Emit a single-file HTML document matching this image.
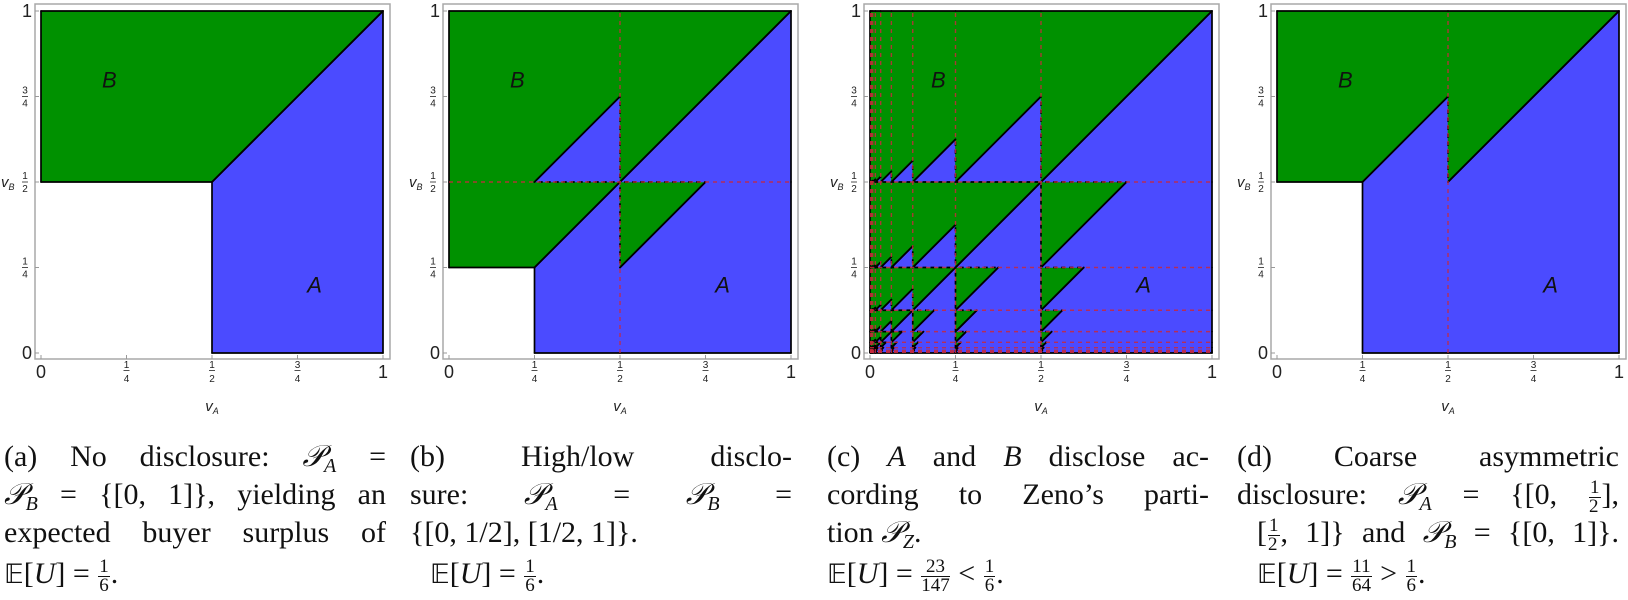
<!DOCTYPE html>
<html><head><meta charset="utf-8">
<style>
html,body{margin:0;padding:0;background:#fff;}
#root{position:relative;width:1628px;height:600px;overflow:hidden;}
svg text{font-family:"Liberation Sans",sans-serif;}
.cap{position:absolute;width:382px;font-family:"Liberation Serif","DejaVu Serif",serif;font-size:30px;color:#111;}
.ln{position:absolute;left:0;width:100%;height:38px;line-height:38px;white-space:nowrap;}
.j{text-align:justify;text-align-last:justify;white-space:normal;}
.ind{padding-left:20px;}
.m{font-style:italic;}
sub{font-size:20px;font-style:italic;vertical-align:-6px;line-height:0;}
.fr{display:inline-block;vertical-align:middle;text-align:center;font-size:19px;line-height:18px;margin:0 1px;}
.fr span{display:block;}
.fr .n{border-bottom:1.3px solid #111;padding:0 1px;}
.bb{font-family:"DejaVu Sans",sans-serif;font-size:27px;}
</style></head>
<body>
<div id="root">
<svg id="plots" width="1628" height="420" style="position:absolute;left:0;top:0"></svg>

<div class="cap" style="left:4px;top:0">
 <div class="ln j" style="top:438px">(a) No disclosure: <span class="m">𝒫<sub>A</sub></span> =</div>
 <div class="ln j" style="top:476px"><span class="m">𝒫<sub>B</sub></span> = {[0, 1]}, yielding an</div>
 <div class="ln j" style="top:514px">expected buyer surplus of</div>
 <div class="ln" style="top:555px"><span class="bb">𝔼</span>[<span class="m">U</span>] = <span class="fr"><span class="n">1</span><span>6</span></span>.</div>
</div>
<div class="cap" style="left:410px;top:0">
 <div class="ln j" style="top:438px">(b) High/low disclo-</div>
 <div class="ln j" style="top:476px">sure: <span class="m">𝒫<sub>A</sub></span> = <span class="m">𝒫<sub>B</sub></span> =</div>
 <div class="ln" style="top:514px">{[0, 1/2], [1/2, 1]}.</div>
 <div class="ln ind" style="top:555px"><span class="bb">𝔼</span>[<span class="m">U</span>] = <span class="fr"><span class="n">1</span><span>6</span></span>.</div>
</div>
<div class="cap" style="left:827px;top:0">
 <div class="ln j" style="top:438px">(c) <span class="m">A</span> and <span class="m">B</span> disclose ac-</div>
 <div class="ln j" style="top:476px">cording to Zeno’s parti-</div>
 <div class="ln" style="top:514px">tion <span class="m">𝒫<sub>Z</sub></span>.</div>
 <div class="ln" style="top:555px"><span class="bb">𝔼</span>[<span class="m">U</span>] = <span class="fr"><span class="n">23</span><span>147</span></span> &lt; <span class="fr"><span class="n">1</span><span>6</span></span>.</div>
</div>
<div class="cap" style="left:1237px;top:0">
 <div class="ln j" style="top:438px">(d) Coarse asymmetric</div>
 <div class="ln j" style="top:476px">disclosure: <span class="m">𝒫<sub>A</sub></span> = {[0, <span class="fr"><span class="n">1</span><span>2</span></span>],</div>
 <div class="ln j ind" style="top:514px;width:362px">[<span class="fr"><span class="n">1</span><span>2</span></span>, 1]} and <span class="m">𝒫<sub>B</sub></span> = {[0, 1]}.</div>
 <div class="ln ind" style="top:555px"><span class="bb">𝔼</span>[<span class="m">U</span>] = <span class="fr"><span class="n">11</span><span>64</span></span> &gt; <span class="fr"><span class="n">1</span><span>6</span></span>.</div>
</div>
</div>

<script>
// ---- data: partition cut points of each panel ----
const panelIds = ['a','b','c','d'];
const cutsA_a = [0, 1];
const cutsB_a = [0, 1];
const cutsA_b = [0, 0.5, 1];
const cutsB_b = [0, 0.5, 1];
const zenoCuts = [0, 1/512, 1/256, 1/128, 1/64, 1/32, 1/16, 1/8, 1/4, 1/2, 1];
const cutsA_d = [0, 0.5, 1];
const cutsB_d = [0, 1];
const tickValues = [0, 0.25, 0.5, 0.75, 1];
const tickNum = ['0', '1', '1', '3', '1'];
const tickDen = ['', '4', '2', '4', ''];
const regionLabels = ['A', 'B'];
const labelX = [0.8, 0.2];
const labelY = [0.2, 0.8];

const panelCuts = [[cutsA_a,cutsB_a],[cutsA_b,cutsB_b],[zenoCuts,zenoCuts],[cutsA_d,cutsB_d]];
const X0 = [41, 449, 870, 1277];
const S = 342, YB = 353;
const GREEN = '#009100', BLUE = '#4b4bff', RED = '#c8283c';
const NS = 'http://www.w3.org/2000/svg';
const svg = document.getElementById('plots');

function mk(tag, attrs, parent){
  const e = document.createElementNS(NS, tag);
  for (const k in attrs) e.setAttribute(k, attrs[k]);
  (parent||svg).appendChild(e);
  return e;
}
function findIdx(cuts, v){
  for (let i=0;i<cuts.length-1;i++){ if (v>=cuts[i] && v<=cuts[i+1]) return i; }
  return cuts.length-2;
}
function classify(x,y,cA,cB){
  const i=findIdx(cA,x), j=findIdx(cB,y);
  const pA=cA[i+1]/2, pB=cB[j+1]/2;
  const uA=x-pA, uB=y-pB;
  if (uA>=uB && uA>=0) return 'A';
  if (uB>uA && uB>=0) return 'B';
  return 'N';
}
// clip polygon to a*x+b*y>=c
function clip(poly,a,b,c){
  const out=[];
  for (let k=0;k<poly.length;k++){
    const P=poly[k], Q=poly[(k+1)%poly.length];
    const fp=a*P[0]+b*P[1]-c, fq=a*Q[0]+b*Q[1]-c;
    if (fp>=0) out.push(P);
    if ((fp>=0)!==(fq>=0)){
      const t=fp/(fp-fq);
      out.push([P[0]+t*(Q[0]-P[0]), P[1]+t*(Q[1]-P[1])]);
    }
  }
  return out;
}

panelIds.forEach((pid, pi) => {
  const x0 = X0[pi];
  const cA = panelCuts[pi][0], cB = panelCuts[pi][1];
  const sx = v => x0 + v*S;
  const sy = v => YB - v*S;
  const g = mk('g', {});
  
  

  // frame
  const fr = mk('rect', {x:x0-6, y:YB-S-7, width:S+13, height:S+13, fill:'none', stroke:'#a8a8a8', 'stroke-width':1.5}, g);
  
  

  const regions = mk('g', {}, g);
  
  
  const edges = [];
  const innerA = cA.slice(1,-1), innerB = cB.slice(1,-1);
  for (let i=0;i<cA.length-1;i++){
    for (let j=0;j<cB.length-1;j++){
      const a1=cA[i], a2=cA[i+1], b1=cB[j], b2=cB[j+1];
      const pA=a2/2, pB=b2/2;
      const rect=[[a1,b1],[a2,b1],[a2,b2],[a1,b2]];
      const polyA = clip(clip(rect,1,-1,pA-pB),1,0,pA);
      const polyB = clip(clip(rect,-1,1,pB-pA+1e-12),0,1,pB);
      [[polyA,BLUE,'region-a'],[polyB,GREEN,'region-b']].forEach(([poly,col,nm])=>{
        if (poly.length<3) return;
        const pts = poly.map(p=>sx(p[0]).toFixed(2)+','+sy(p[1]).toFixed(2)).join(' ');
        const pg = mk('polygon', {points:pts, fill:col, stroke:col, 'stroke-width':0.6}, regions);
        
        
        for (let k=0;k<poly.length;k++){
          const P=poly[k], Q=poly[(k+1)%poly.length];
          const onV = innerA.some(c=>Math.abs(P[0]-c)<1e-9 && Math.abs(Q[0]-c)<1e-9);
          const onH = innerB.some(c=>Math.abs(P[1]-c)<1e-9 && Math.abs(Q[1]-c)<1e-9);
          const len = Math.hypot(P[0]-Q[0],P[1]-Q[1]);
          if (!onV && !onH && len>1e-9) edges.push([P,Q]);
        }
      });
    }
  }
  const bl = mk('g', {stroke:'#000', 'stroke-width':1.7, fill:'none', 'stroke-linecap':'round'}, g);
  
  
  edges.forEach(([P,Q])=>{
    mk('line', {x1:sx(P[0]),y1:sy(P[1]),x2:sx(Q[0]),y2:sy(Q[1])}, bl);
  });

  // boundaries along partition lines (black dashed where sides differ)
  const N = 1400, eps=1e-7;
  function sideSegs(isV, c){
    const segs=[]; let st=null;
    for (let k=0;k<=N;k++){
      const t=k/N;
      const d = isV ? classify(c-eps,t,cA,cB)!==classify(c+eps,t,cA,cB)
                    : classify(t,c-eps,cA,cB)!==classify(t,c+eps,cA,cB);
      if (d && st===null) st=t;
      if ((!d || k===N) && st!==null){ segs.push([st, d?t:(k-1)/N]); st=null; }
    }
    return segs;
  }
  const dl = mk('g', {}, g);
  
  
  innerA.forEach(c=>{
    sideSegs(true,c).forEach(([s,e])=>mk('line',{x1:sx(c),y1:sy(s),x2:sx(c),y2:sy(e),stroke:'#000','stroke-width':1.7,'stroke-dasharray':'4 4','stroke-dashoffset':4},dl));
    const ln = mk('line',{x1:sx(c),y1:sy(0),x2:sx(c),y2:sy(1),stroke:RED,'stroke-width':1.4,'stroke-dasharray':'4 4','opacity':0.85},dl);
    
    
  });
  innerB.forEach(c=>{
    sideSegs(false,c).forEach(([s,e])=>mk('line',{x1:sx(s),y1:sy(c),x2:sx(e),y2:sy(c),stroke:'#000','stroke-width':1.7,'stroke-dasharray':'4 4','stroke-dashoffset':4},dl));
    const ln = mk('line',{x1:sx(0),y1:sy(c),x2:sx(1),y2:sy(c),stroke:RED,'stroke-width':1.4,'stroke-dasharray':'4 4','opacity':0.85},dl);
    
    
  });

  // region labels
  regionLabels.forEach((lab,k)=>{
    const t = mk('text',{x:sx(labelX[k]),y:sy(labelY[k])+8,'font-size':22,'font-style':'italic','text-anchor':'middle',fill:'#111'},g);
    t.textContent = lab;
    
    
  });

  // ticks
  const tg = mk('g', {fill:'#222'}, g);
  
  
  tickValues.forEach((v,k)=>{
    mk('line',{x1:sx(v),y1:YB+6,x2:sx(v),y2:YB+2,stroke:'#999','stroke-width':1},tg);
    mk('line',{x1:x0-6,y1:sy(v),x2:x0-2,y2:sy(v),stroke:'#999','stroke-width':1},tg);
    if (tickDen[k]===''){
      const tx = mk('text',{x:sx(v),y:YB+25,'font-size':18,'text-anchor':'middle'},tg);
      tx.textContent = tickNum[k];
      
      
      const ty = mk('text',{x:x0-9,y:sy(v)+6,'font-size':18,'text-anchor':'end'},tg);
      ty.textContent = tickNum[k];
      
      
    } else {
      const cx = sx(v);
      const n1 = mk('text',{x:cx,y:YB+15,'font-size':10,'text-anchor':'middle'},tg); n1.textContent=tickNum[k];
      
      
      mk('line',{x1:cx-3,y1:YB+17.5,x2:cx+3,y2:YB+17.5,stroke:'#222','stroke-width':0.8},tg);
      const d1 = mk('text',{x:cx,y:YB+29,'font-size':10,'text-anchor':'middle'},tg); d1.textContent=tickDen[k];
      
      
      const cy = sy(v), fx = x0-16;
      const n2 = mk('text',{x:fx,y:cy-3,'font-size':10,'text-anchor':'middle'},tg); n2.textContent=tickNum[k];
      
      
      mk('line',{x1:fx-3,y1:cy,x2:fx+3,y2:cy,stroke:'#222','stroke-width':0.8},tg);
      const d2 = mk('text',{x:fx,y:cy+10,'font-size':10,'text-anchor':'middle'},tg); d2.textContent=tickDen[k];
      
      
    }
  });
  // axis titles
  const xt = mk('text',{x:sx(0.5),y:YB+58,'font-size':15,'font-style':'italic','text-anchor':'middle',fill:'#222'},g);
  xt.innerHTML = 'v<tspan font-size="9" dy="3">A</tspan>';
  
  
  const yt = mk('text',{x:x0-40,y:sy(0.5)+5,'font-size':15,'font-style':'italic','text-anchor':'start',fill:'#222'},g);
  yt.innerHTML = 'v<tspan font-size="9" dy="3">B</tspan>';
  
  
});
</script>
</body></html>
